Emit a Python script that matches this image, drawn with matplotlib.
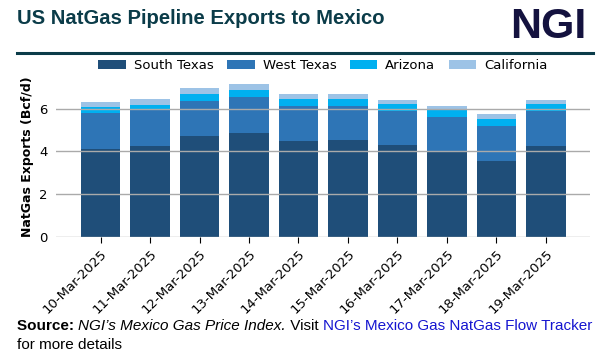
import numpy as np
import matplotlib
matplotlib.use("Agg")
import matplotlib.pyplot as plt

dates = ['10-Mar-2025', '11-Mar-2025', '12-Mar-2025', '13-Mar-2025', '14-Mar-2025',
         '15-Mar-2025', '16-Mar-2025', '17-Mar-2025', '18-Mar-2025', '19-Mar-2025']
south_texas = [4.11, 4.25, 4.72, 4.87, 4.49, 4.55, 4.30, 4.00, 3.57, 4.25]
west_texas = [1.67, 1.68, 1.64, 1.66, 1.63, 1.57, 1.60, 1.61, 1.63, 1.65]
arizona = [0.28, 0.24, 0.32, 0.34, 0.34, 0.34, 0.31, 0.36, 0.31, 0.31]
california = [0.25, 0.28, 0.28, 0.28, 0.22, 0.22, 0.19, 0.15, 0.24, 0.19]

series = [('South Texas', south_texas, '#1f4e79'),
          ('West Texas', west_texas, '#2e75b6'),
          ('Arizona', arizona, '#00b0f0'),
          ('California', california, '#9dc3e6')]

fig = plt.figure(figsize=(6.12, 3.59), dpi=100)
ax = fig.add_axes([0.0915, 0.34, 0.8725, 0.447])

x = np.arange(len(dates))
bottom = np.zeros(len(dates))
for name, vals, col in series:
    ax.bar(x, vals, bottom=bottom, width=0.8, color=col, label=name, zorder=1)
    bottom += np.array(vals)

ax.set_ylim(0, 7.5)
ax.set_xlim(-0.9, 9.89)
ax.set_yticks([0, 2, 4, 6])
ax.yaxis.grid(True, color='#aaaaaa', linewidth=1, zorder=3)
ax.set_axisbelow(False)
for s in ax.spines.values():
    s.set_visible(False)
ax.tick_params(axis='y', length=0, labelsize=9.5, pad=6)
ax.tick_params(axis='x', length=4, labelsize=9.5)
ax.set_xticks(x)
ax.set_xticklabels(dates, rotation=45, ha='right', rotation_mode='anchor')
ax.set_ylabel('NatGas Exports (Bcf/d)', fontweight='bold', fontsize=9)

ax.legend(loc='lower center', bbox_to_anchor=(0.5, 0.995), ncol=4, frameon=False,
          fontsize=9.5, handlelength=2.1, columnspacing=1.0, handletextpad=0.6,
          borderaxespad=0)

# header
fig.text(17/612, 1 - 18/359, 'US NatGas Pipeline Exports to Mexico', fontsize=14.6,
         fontweight='bold', color='#0b3c49', family='Liberation Sans', va='center')
fig.text(548/612, 1 - 27/359, 'NGI', fontsize=31, fontweight='bold', color='#14123f',
         family='Liberation Sans', va='center', ha='center')
fig.add_artist(plt.Line2D([17/612, 593/612], [1 - 52.5/359, 1 - 52.5/359],
                          color='#0b3c49', linewidth=2.2, transform=fig.transFigure))

# source footer built piece by piece
pieces = [('Source: ', 'bold', 'normal', 'black'),
          ("NGI's Mexico Gas Price Index.", 'normal', 'italic', 'black'),
          (' Visit ', 'normal', 'normal', 'black'),
          ("NGI's Mexico Gas NatGas Flow Tracker", 'normal', 'normal', '#1515d0')]
fig.canvas.draw()
r = fig.canvas.get_renderer()
xpos = 17
for txt, w, st, col in pieces:
    t = fig.text(xpos/612, 1 - 326/359, txt.replace("'", "\u2019"), fontsize=11,
                 fontweight=w, style=st, color=col, family='Liberation Sans', va='center')
    xpos += t.get_window_extent(r).width
fig.text(17/612, 1 - 345/359, 'for more details', fontsize=11, color='black',
         family='Liberation Sans', va='center')

fig.savefig('out.png', dpi=100)
